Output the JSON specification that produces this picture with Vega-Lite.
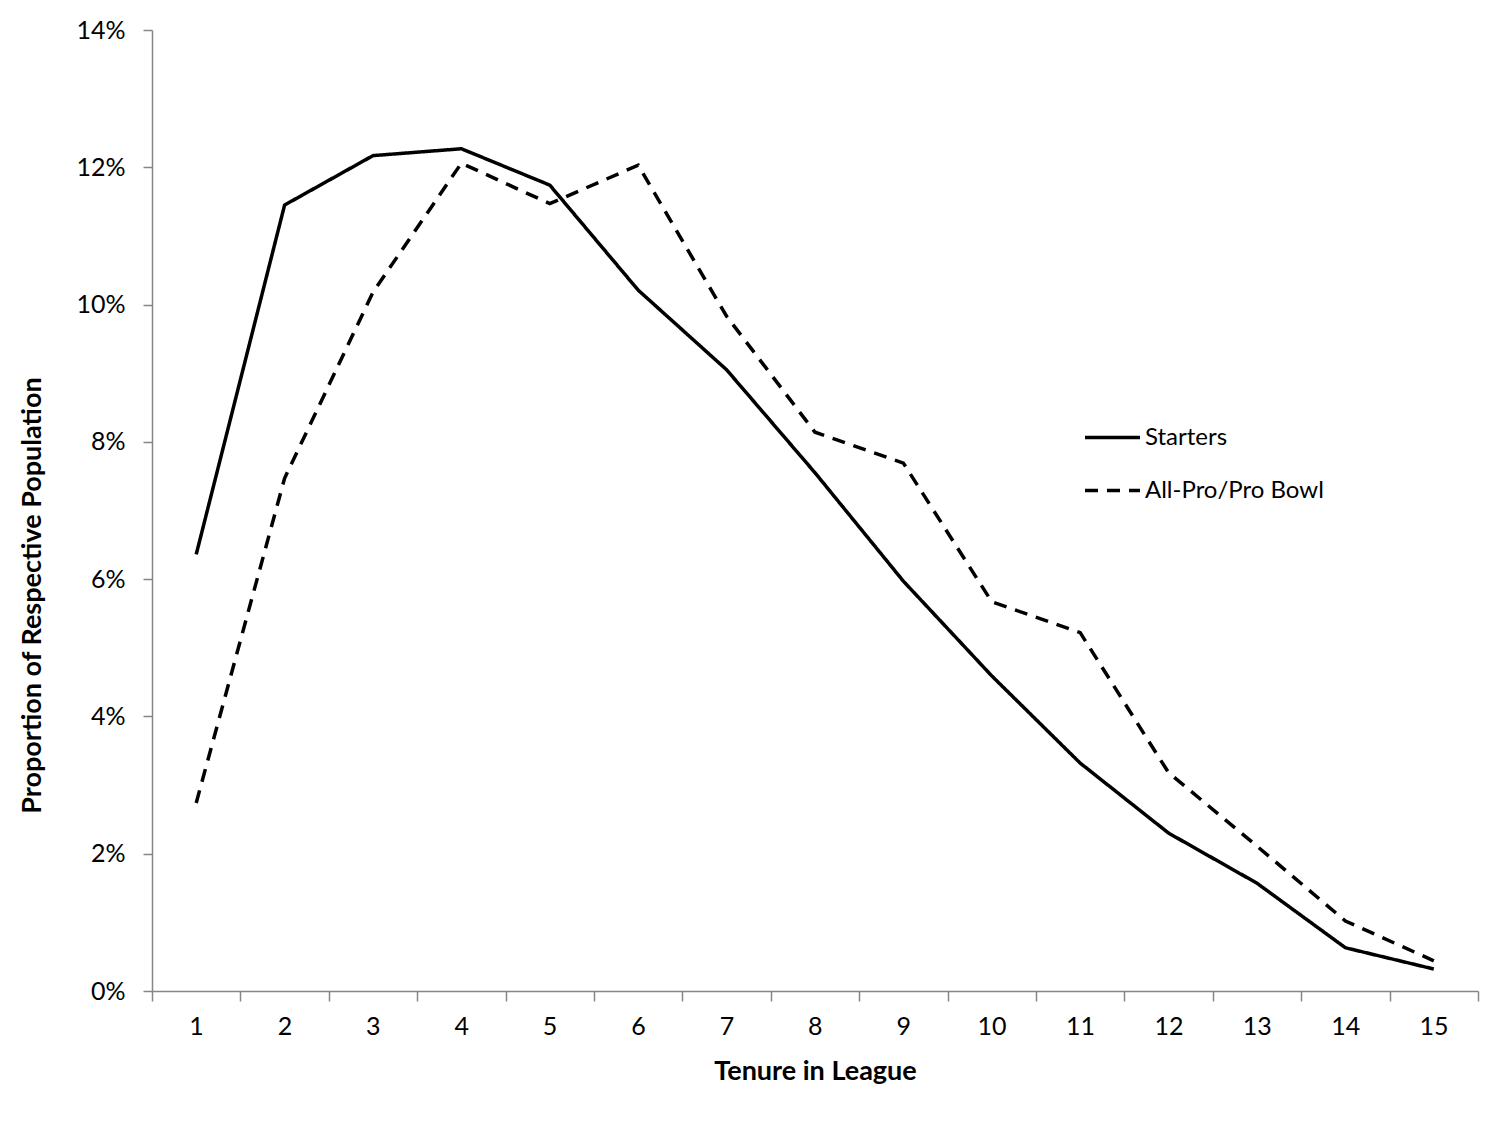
{
  "$schema": "https://vega.github.io/schema/vega-lite/v6.json",
  "background": "white",
  "autosize": {"type": "none"},
  "padding": {"left": 152, "top": 30, "right": 22, "bottom": 134},
  "width": 1326,
  "height": 961,
  "data": {
    "values": [
      {"tenure": 1, "series": "Starters", "share": 0.0636},
      {"tenure": 2, "series": "Starters", "share": 0.1145},
      {"tenure": 3, "series": "Starters", "share": 0.1217},
      {"tenure": 4, "series": "Starters", "share": 0.1227},
      {"tenure": 5, "series": "Starters", "share": 0.1174},
      {"tenure": 6, "series": "Starters", "share": 0.1021},
      {"tenure": 7, "series": "Starters", "share": 0.0905},
      {"tenure": 8, "series": "Starters", "share": 0.0755},
      {"tenure": 9, "series": "Starters", "share": 0.0597},
      {"tenure": 10, "series": "Starters", "share": 0.0459},
      {"tenure": 11, "series": "Starters", "share": 0.0332},
      {"tenure": 12, "series": "Starters", "share": 0.0230},
      {"tenure": 13, "series": "Starters", "share": 0.0157},
      {"tenure": 14, "series": "Starters", "share": 0.0063},
      {"tenure": 15, "series": "Starters", "share": 0.0032},
      {"tenure": 1, "series": "All-Pro/Pro Bowl", "share": 0.0274},
      {"tenure": 2, "series": "All-Pro/Pro Bowl", "share": 0.0747},
      {"tenure": 3, "series": "All-Pro/Pro Bowl", "share": 0.1018},
      {"tenure": 4, "series": "All-Pro/Pro Bowl", "share": 0.1206},
      {"tenure": 5, "series": "All-Pro/Pro Bowl", "share": 0.1147},
      {"tenure": 6, "series": "All-Pro/Pro Bowl", "share": 0.1203},
      {"tenure": 7, "series": "All-Pro/Pro Bowl", "share": 0.0983},
      {"tenure": 8, "series": "All-Pro/Pro Bowl", "share": 0.0814},
      {"tenure": 9, "series": "All-Pro/Pro Bowl", "share": 0.0769},
      {"tenure": 10, "series": "All-Pro/Pro Bowl", "share": 0.0567},
      {"tenure": 11, "series": "All-Pro/Pro Bowl", "share": 0.0522},
      {"tenure": 12, "series": "All-Pro/Pro Bowl", "share": 0.0318},
      {"tenure": 13, "series": "All-Pro/Pro Bowl", "share": 0.0211},
      {"tenure": 14, "series": "All-Pro/Pro Bowl", "share": 0.0102},
      {"tenure": 15, "series": "All-Pro/Pro Bowl", "share": 0.0044}
    ]
  },
  "mark": {"type": "line", "color": "black", "strokeWidth": 3.5, "strokeJoin": "miter"},
  "encoding": {
    "x": {
      "field": "tenure",
      "type": "quantitative",
      "scale": {"domain": [0.5, 15.5], "nice": false, "zero": false},
      "axis": {
        "title": "Tenure in League",
        "values": [0.5, 1.5, 2.5, 3.5, 4.5, 5.5, 6.5, 7.5, 8.5, 9.5, 10.5, 11.5, 12.5, 13.5, 14.5, 15.5],
        "labelExpr": "datum.value < 15 ? format(datum.value + 0.5, 'd') : ''",
        "labelOffset": 44,
        "labelAlign": "center",
        "labelPadding": 13,
        "tickSize": 10,
        "titlePadding": 19,
        "grid": false
      }
    },
    "y": {
      "field": "share",
      "type": "quantitative",
      "scale": {"domain": [0, 0.14], "nice": false},
      "axis": {
        "title": "Proportion of Respective Population",
        "values": [0, 0.02, 0.04, 0.06, 0.08, 0.1, 0.12, 0.14],
        "format": ".0%",
        "tickSize": 9,
        "labelPadding": 18,
        "titleX": -106,
        "titleY": 565,
        "grid": false
      }
    },
    "strokeDash": {
      "field": "series",
      "type": "nominal",
      "scale": {"domain": ["Starters", "All-Pro/Pro Bowl"], "range": [[1, 0], [13, 9]]},
      "legend": {
        "title": null,
        "orient": "none",
        "legendX": 931,
        "legendY": 378,
        "symbolType": "stroke",
        "symbolSize": 3025,
        "symbolStrokeWidth": 3.5,
        "symbolStrokeColor": "black",
        "labelFont": "Lato",
        "labelFontSize": 24,
        "labelColor": "black",
        "labelLimit": 0,
        "labelOffset": 3,
        "rowPadding": 11
      }
    }
  },
  "config": {
    "view": {"stroke": null},
    "font": "Lato",
    "axis": {
      "domainColor": "#868686",
      "tickColor": "#868686",
      "domainWidth": 1.5,
      "tickWidth": 1.5,
      "labelFont": "Lato",
      "labelFontSize": 25,
      "labelColor": "black",
      "titleFont": "Lato",
      "titleFontSize": 27,
      "titleFontWeight": "bold",
      "titleColor": "black"
    }
  }
}
